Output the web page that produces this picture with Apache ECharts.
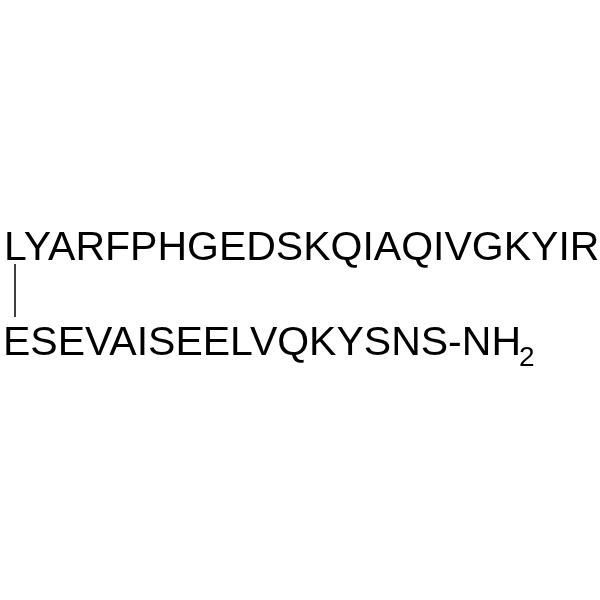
<!DOCTYPE html>
<html>
<head>
<meta charset="utf-8">
<script src="https://cdn.jsdelivr.net/npm/echarts@6/dist/echarts.min.js"></script>
<style>
  html, body { margin: 0; padding: 0; background: #fff; }
  #chartmain { width: 600px; height: 600px; }
</style>
</head>
<body>
<div id="chartmain"></div>
<script>
// 肽链序列
var chainTop = 'LYARFPHGEDSKQIAQIVGKYIR';
var chainBottom = 'ESEVAISEELVQKYSNS-NH';
var subscript = '2';

// 每行文字的锚点 (x, y)，画布坐标 0-600
var rowX = [4, 3];
var rowY = [249, 344];
var subX = 519;
var subY = 358;
// 两条链之间的连接线
var bondX = [15, 15];
var bondY = [264, 317];

var font = 'Liberation Sans';

function textPoint(x, y, txt, size) {
  return {
    value: [x, y],
    label: {
      show: true,
      formatter: txt,
      position: 'right',
      distance: 0,
      align: 'left',
      verticalAlign: 'middle',
      color: '#000',
      opacity: 1,
      fontSize: size,
      fontFamily: font
    }
  };
}

var textData = [
  textPoint(rowX[0], rowY[0], chainTop, 41),
  textPoint(rowX[1], rowY[1], chainBottom, 41),
  textPoint(subX, subY, subscript, 28)
];

option = {
  backgroundColor: '#fff',
  animation: false,
  grid: { left: 0, right: 0, top: 0, bottom: 0 },
  xAxis: { type: 'value', min: 0, max: 600, show: false },
  yAxis: { type: 'value', min: 0, max: 600, inverse: true, show: false },
  series: [{
    type: 'scatter',
    symbolSize: 0,
    itemStyle: { opacity: 1 },
    data: textData
  }, {
    type: 'line',
    symbol: 'none',
    lineStyle: { color: '#000', width: 1.5, opacity: 1 },
    data: [[bondX[0], bondY[0]], [bondX[1], bondY[1]]]
  }]
};

var myChart = echarts.init(document.getElementById('chartmain'));
myChart.setOption(option);
</script>
</body>
</html>
